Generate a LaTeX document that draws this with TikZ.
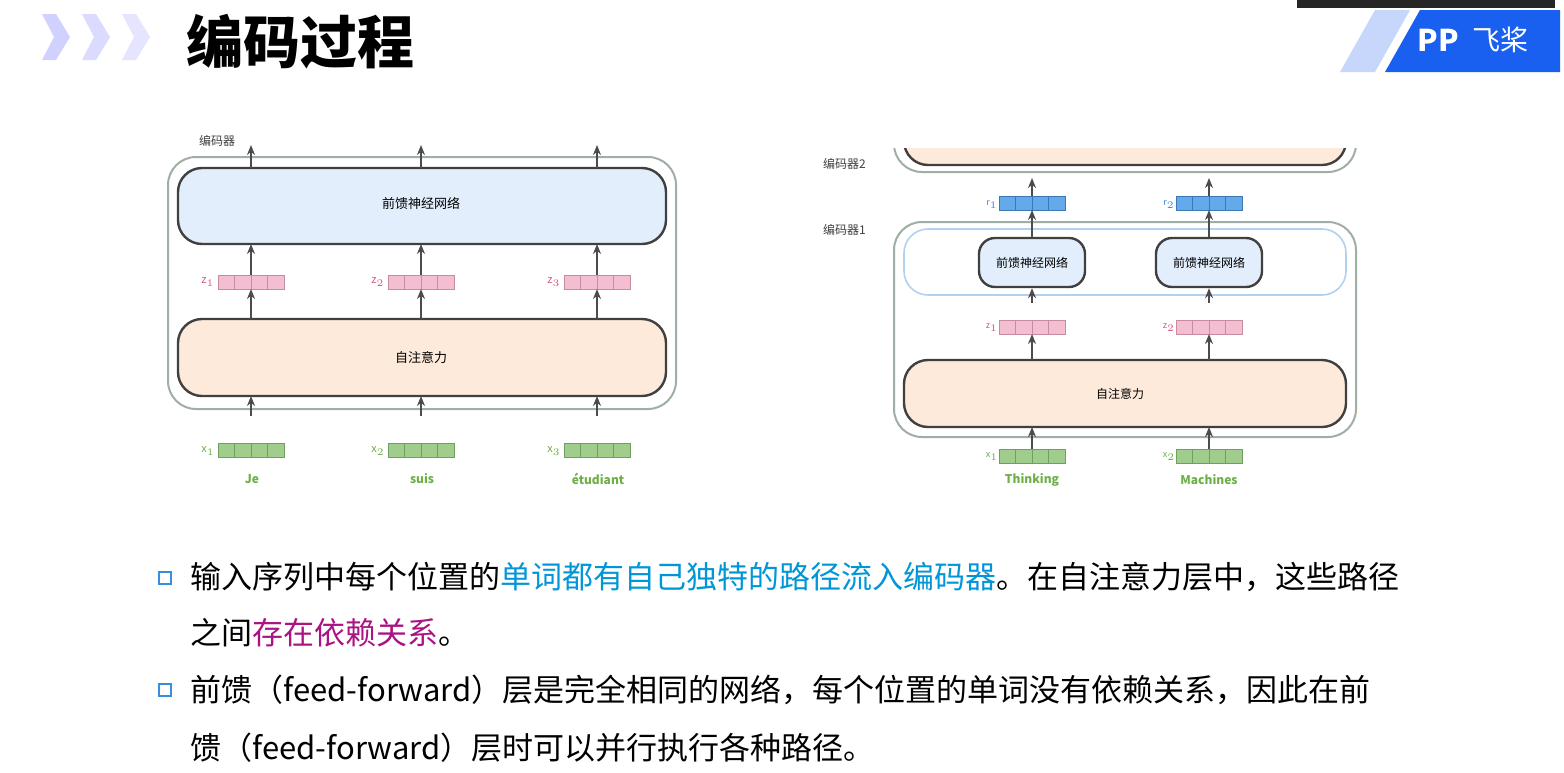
\documentclass[tikz,border=0pt]{standalone}
\usepackage{fontspec}
\setmainfont{Noto Sans CJK SC}
\usetikzlibrary{arrows.meta}
\definecolor{ffb}{RGB}{226,238,252}
\definecolor{sao}{RGB}{253,234,218}
\definecolor{outg}{RGB}{160,175,165}
\definecolor{pk}{RGB}{244,190,210}
\definecolor{pkb}{RGB}{200,140,160}
\definecolor{pkt}{RGB}{220,90,130}
\definecolor{gr}{RGB}{160,205,140}
\definecolor{grb}{RGB}{110,160,95}
\definecolor{grt}{RGB}{110,175,70}
\definecolor{bl}{RGB}{100,170,235}
\definecolor{blb}{RGB}{60,120,180}
\definecolor{blt}{RGB}{60,140,220}
\definecolor{hl}{RGB}{0,150,215}
\definecolor{mg}{RGB}{170,20,130}
\definecolor{logo}{RGB}{25,95,240}
\tikzset{
 box/.style={draw=black!75,line width=1.2pt,rounded corners=12pt},
 outer/.style={draw=outg,line width=1pt,rounded corners=14pt},
 arr/.style={-{Stealth[length=5pt,width=4pt]},draw=black!70,line width=1pt},
 lbl/.style={font=\fontsize{6}{7}\selectfont,text=black!75},
 word/.style={font=\fontsize{6}{7}\selectfont\bfseries,text=grt},
 body/.style={font=\fontsize{15.5}{17}\selectfont,anchor=west,inner sep=0},
}
\newcommand{\vecbox}[6]{% name, cx, cy, fill, border, label
 \foreach \i in {0,1,2,3}{\draw[draw=#5,fill=#4,line width=0.5pt] (#2-33+\i*16.5,#3-7) rectangle ++(16.5,14);}
 \coordinate (#1) at (#2,#3);
 \coordinate (#1t) at (#2,#3-7);
 \coordinate (#1b) at (#2,#3+7);
 #6}
\begin{document}
\begin{tikzpicture}[x=0.5pt,y=-0.5pt]
\useasboundingbox (0,0) rectangle (1564,772);
\fill[white] (0,0) rectangle (1564,772);
% chevrons
\foreach \x/\c in {42/18,82/14,122/10}{\fill[blue!\c!white] (\x,14) -- (\x+14,14) -- (\x+28,37) -- (\x+14,60) -- (\x,60) -- (\x+12,37) -- cycle;}
\node[anchor=west,font=\fontsize{28.5}{30}\selectfont\bfseries,inner sep=0] (title) at (186,42) {编码过程};
% logo
\fill[logo!25!white] (1375,10) -- (1410,10) -- (1375,72) -- (1340,72) -- cycle;
\fill[logo] (1420,10) -- (1560,10) -- (1560,72) -- (1385,72) -- cycle;
\fill[black!85] (1297,0) rectangle (1555,8);
\node[text=white,font=\fontsize{15}{16}\selectfont\bfseries\itshape,inner sep=0] (pp) at (1438,40) {PP};
\node[text=white,font=\fontsize{14}{16}\selectfont,inner sep=0] (fj) at (1500,40) {飞桨};
% ===== left diagram
\node[lbl,anchor=west] (enc) at (192,141) {编码器};
\draw[outer] (168,157) rectangle (676,409);
\draw[box,fill=ffb] (178,168) rectangle (666,244);
\node[font=\fontsize{6.5}{7}\selectfont] (ff) at (421,203) {前馈神经网络};
\draw[box,fill=sao] (178,319) rectangle (666,396);
\node[font=\fontsize{6.5}{7}\selectfont] (sa) at (421,358) {自注意力};
\foreach \c/\n/\w [count=\k] in {251/1/Je,421/2/suis,597/3/étudiant}{
 \vecbox{z\k}{\c}{282}{pk}{pkb}{\node[font=\fontsize{5.5}{6}\selectfont,text=pkt] at (\c-43,282) {z$_{\n}$};}
 \vecbox{x\k}{\c}{450}{gr}{grb}{\node[font=\fontsize{5.5}{6}\selectfont,text=grt] at (\c-43,451) {x$_{\n}$};}
 \node[word] (w\k) at (\c+1,479) {\w};
 \draw[arr] (\c,168) -- (\c,145);
 \draw[arr] (z\k t) -- (\c,244);
 \draw[arr] (\c,319) -- (z\k b);
 \draw[arr] (\c,416) -- (\c,396);
}
% ===== right diagram
\begin{scope}
\clip (880,148) rectangle (1370,180);
\draw[outer] (894,120) rectangle (1356,172);
\draw[box,fill=sao] (904,110) rectangle (1346,165);
\end{scope}
\node[lbl,anchor=west] (e2) at (816,164) {编码器2};
\node[lbl,anchor=west] (e1) at (816,230) {编码器1};
\draw[outer] (894,222) rectangle (1356,437);
\draw[draw=blt!40,line width=0.8pt,rounded corners=12pt] (904,229) rectangle (1346,295);
\draw[box,fill=sao] (904,360) rectangle (1346,427);
\node[font=\fontsize{6}{7}\selectfont] (sa2) at (1120,394) {自注意力};
\foreach \c/\w [count=\k] in {1032/Thinking,1209/Machines}{
 \node[box,fill=ffb,rounded corners=8pt,minimum width=53pt,minimum height=24.5pt,font=\fontsize{6}{7}\selectfont] (f\k) at (\c,262.5) {前馈神经网络};
 \vecbox{r\k}{\c}{203}{bl}{blb}{\node[font=\fontsize{4.5}{5}\selectfont,text=blt] at (\c-40,204) {r$_{\k}$};}
 \vecbox{q\k}{\c}{327}{pk}{pkb}{\node[font=\fontsize{4.5}{5}\selectfont,text=pkt] at (\c-40,328) {z$_{\k}$};}
 \vecbox{y\k}{\c}{456}{gr}{grb}{\node[font=\fontsize{4.5}{5}\selectfont,text=grt] at (\c-40,457) {x$_{\k}$};}
 \node[word] (v\k) at (\c,480) {\w};
 \draw[arr] (r\k t) -- (\c,178);
 \draw[arr] (f\k.north) -- (r\k b);
 \draw[arr] (\c,303) -- (f\k.south);
 \draw[arr] (\c,360) -- (q\k b);
 \draw[arr] (y\k t) -- (\c,427);
}
% ===== bullets
\foreach \y in {578,690}{\draw[draw=blt,line width=1.2pt] (159,\y-6) rectangle (171,\y+6);}
\node[body] (b1) at (190,577) {输入序列中每个位置的\textcolor{hl}{单词都有自己独特的路径流入编码器}。在自注意力层中，这些路径};
\node[body] (b2) at (190,633) {之间\textcolor{mg}{存在依赖关系}。};
\node[body] (b3) at (190,690) {前馈（feed-forward）层是完全相同的网络，每个位置的单词没有依赖关系，因此在前};
\node[body] (b4) at (190,748) {馈（feed-forward）层时可以并行执行各种路径。};
\end{tikzpicture}
\end{document}
